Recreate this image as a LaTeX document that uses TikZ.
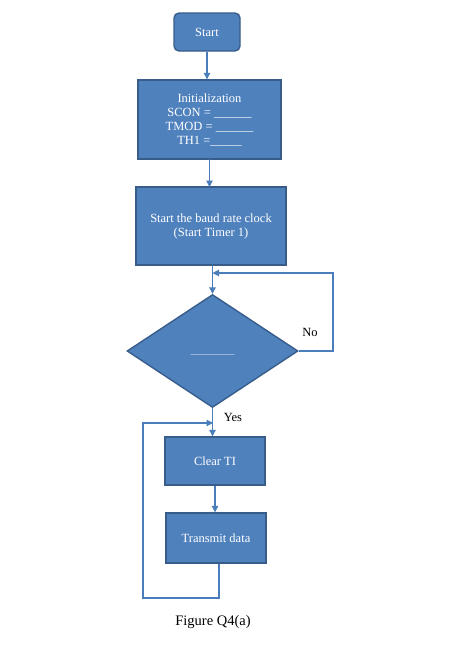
\documentclass[tikz,border=0pt]{standalone}
\usepackage{fontspec}
\setmainfont{Liberation Serif}
\usetikzlibrary{shapes.geometric,arrows.meta}
\definecolor{boxfill}{HTML}{4F81BD}
\definecolor{boxline}{HTML}{385D8A}
\definecolor{conn}{HTML}{4A7EBB}
\definecolor{dash}{HTML}{C6D9F1}
\begin{document}
\begin{tikzpicture}[x=1pt,y=-1pt,
  every node/.style={font=\fontsize{12.5}{14}\selectfont},
  flowbox/.style={draw=boxline,fill=boxfill,line width=1.4pt,text=white,align=center,inner sep=0pt},
  conline/.style={draw=conn,line width=1.1pt},
  arr/.style={conline,-{Triangle[width=6.5pt,length=6.5pt]}},
  lbl/.style={text=black,inner sep=0pt}]
\useasboundingbox (0,0) rectangle (474,662);
\node[flowbox,rounded corners=5pt,minimum width=66pt,minimum height=38pt] (start) at (207,32) {Start};
\node[flowbox,minimum width=143pt,minimum height=79pt] (init) at (209.5,119.5)
  {Initialization\\SCON = \_\_\_\_\_\_\\TMOD = \_\_\_\_\_\_\\TH1 =\_\_\_\_\_};
\node[flowbox,minimum width=150pt,minimum height=78pt] (baud) at (211,226)
  {Start the baud rate clock\\(Start Timer 1)};
\node[flowbox,diamond,aspect=1.513,minimum width=171pt,minimum height=113pt] (dec) at (212.5,351)
  {\textcolor{dash}{\raisebox{-6pt}{\_\_\_\_\_\_\_}}};
\node[flowbox,minimum width=100pt,minimum height=48pt] (clear) at (215,461) {Clear TI};
\node[flowbox,minimum width=100pt,minimum height=50pt] (trans) at (216,538) {Transmit data};
\coordinate (jno) at (212.5,273);
\coordinate (noR) at (333,273);
\coordinate (jyes) at (213,423);
\coordinate (yesL) at (143,423);
\coordinate (loopB) at (219,598);
\node[lbl] (no) at (310,332) {No};
\node[lbl] (yes) at (233,417) {Yes};
\node[text=black,font=\fontsize{14.5}{16}\selectfont] (cap) at (213,622) {Figure Q4(a)};
\draw[arr] (start.south) -- (start.south |- init.north);
\draw[arr] (209.5,159) -- (209.5,187);
\draw[arr] (212.5,265) -- (dec.north);
\draw[arr] (dec.east) -| (noR) -- (jno);
\draw[arr] (dec.south) -- (dec.south |- clear.north);
\draw[arr] (clear.south) -- (clear.south |- trans.north);
\draw[arr] (trans.south -| loopB) -- (loopB) -| (yesL) -- (jyes);
\end{tikzpicture}
\end{document}
